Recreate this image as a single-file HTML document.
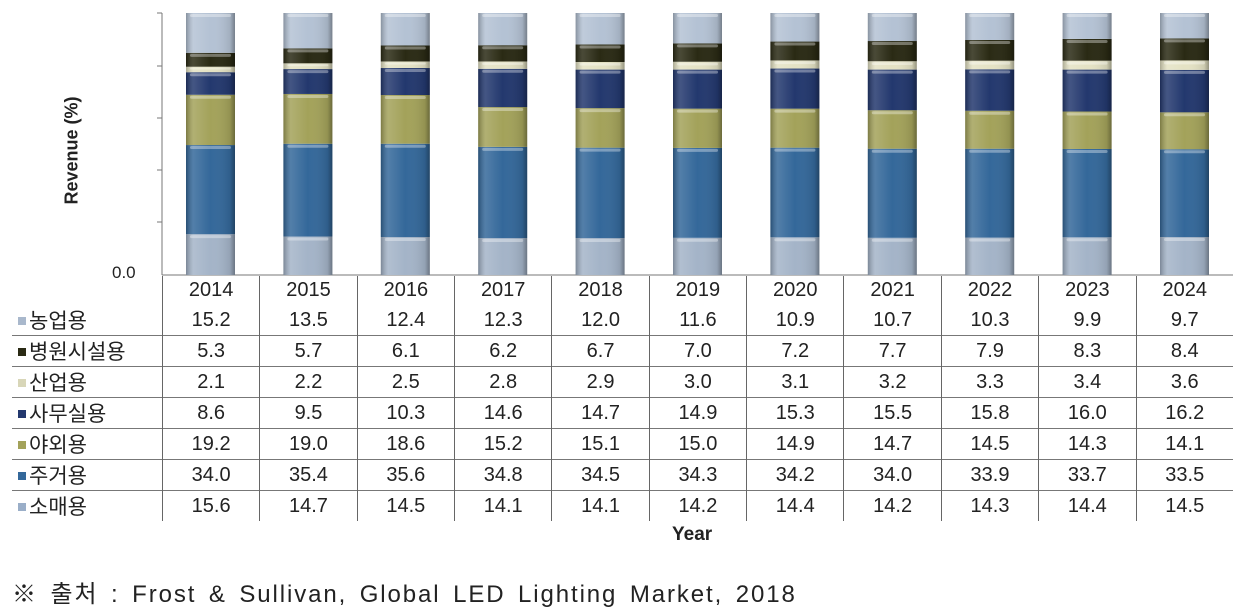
<!DOCTYPE html>
<html><head><meta charset="utf-8"><style>
body{margin:0;width:1233px;height:615px;background:#fff;position:relative;overflow:hidden;font-family:"Liberation Sans","Noto Sans CJK KR",sans-serif;color:#222}
.a{position:absolute}
table{position:absolute;left:12px;top:276px;border-collapse:collapse;font-size:20px}
td{height:30px;padding:0;text-align:center;border-left:1px solid #666}
td:first-child{width:150px;text-align:left;border-left:none;font-size:21px;font-family:"Noto Sans CJK KR",sans-serif;line-height:28px}
td.v{width:96.4px}
tr.r td{border-top:1px solid #777}
tr.h td{height:29px;font-size:20px}
.sw{display:inline-block;width:8px;height:8px;margin:0 3px 3px 6px;vertical-align:middle}
</style></head><body>
<svg class="a" style="left:0;top:0" width="1233" height="280" id="s">
<defs>
<linearGradient id="sh" x1="0" x2="1"><stop offset="0" stop-color="#000" stop-opacity=".25"/><stop offset=".15" stop-color="#fff" stop-opacity=".15"/><stop offset=".5" stop-color="#fff" stop-opacity="0"/><stop offset=".9" stop-color="#000" stop-opacity=".1"/><stop offset="1" stop-color="#000" stop-opacity=".35"/></linearGradient>
</defs>
<line x1="162" y1="13" x2="162" y2="275" stroke="#777"/>
<line x1="162" y1="275" x2="1233" y2="275" stroke="#777"/>
<g stroke="#777"><line x1="157" y1="13" x2="162" y2="13"/><line x1="157" y1="66" x2="162" y2="66"/><line x1="157" y1="118" x2="162" y2="118"/><line x1="157" y1="170" x2="162" y2="170"/><line x1="157" y1="222" x2="162" y2="222"/></g>
</svg>
<div class="a" style="left:112px;top:263px;font-size:17px">0.0</div>
<div class="a" style="left:-8px;top:140px;font-size:18px;font-weight:bold;transform:rotate(-90deg);width:160px;text-align:center">Revenue (%)</div>
<table>
<tr class="h"><td></td><td class="v">2014</td><td class="v">2015</td><td class="v">2016</td><td class="v">2017</td><td class="v">2018</td><td class="v">2019</td><td class="v">2020</td><td class="v">2021</td><td class="v">2022</td><td class="v">2023</td><td class="v">2024</td></tr>
<tr><td><span class="sw" style="background:#a9b8cc"></span>농업용</td><td>15.2</td><td>13.5</td><td>12.4</td><td>12.3</td><td>12.0</td><td>11.6</td><td>10.9</td><td>10.7</td><td>10.3</td><td>9.9</td><td>9.7</td></tr>
<tr class="r"><td><span class="sw" style="background:#2a2a14"></span>병원시설용</td><td>5.3</td><td>5.7</td><td>6.1</td><td>6.2</td><td>6.7</td><td>7.0</td><td>7.2</td><td>7.7</td><td>7.9</td><td>8.3</td><td>8.4</td></tr>
<tr class="r"><td><span class="sw" style="background:#d8d6b8"></span>산업용</td><td>2.1</td><td>2.2</td><td>2.5</td><td>2.8</td><td>2.9</td><td>3.0</td><td>3.1</td><td>3.2</td><td>3.3</td><td>3.4</td><td>3.6</td></tr>
<tr class="r"><td><span class="sw" style="background:#23386e"></span>사무실용</td><td>8.6</td><td>9.5</td><td>10.3</td><td>14.6</td><td>14.7</td><td>14.9</td><td>15.3</td><td>15.5</td><td>15.8</td><td>16.0</td><td>16.2</td></tr>
<tr class="r"><td><span class="sw" style="background:#a3a25a"></span>야외용</td><td>19.2</td><td>19.0</td><td>18.6</td><td>15.2</td><td>15.1</td><td>15.0</td><td>14.9</td><td>14.7</td><td>14.5</td><td>14.3</td><td>14.1</td></tr>
<tr class="r"><td><span class="sw" style="background:#34689a"></span>주거용</td><td>34.0</td><td>35.4</td><td>35.6</td><td>34.8</td><td>34.5</td><td>34.3</td><td>34.2</td><td>34.0</td><td>33.9</td><td>33.7</td><td>33.5</td></tr>
<tr class="r"><td><span class="sw" style="background:#9aaec8"></span>소매용</td><td>15.6</td><td>14.7</td><td>14.5</td><td>14.1</td><td>14.1</td><td>14.2</td><td>14.4</td><td>14.2</td><td>14.3</td><td>14.4</td><td>14.5</td></tr>
</table>
<div class="a" style="left:672px;top:524px;font-size:19px;font-weight:bold">Year</div>
<div class="a" style="left:12px;top:574px;font-size:24px;letter-spacing:1.9px;word-spacing:4px;font-family:'Liberation Sans','Noto Sans CJK KR',sans-serif">※ 출처 : Frost &amp; Sullivan, Global LED Lighting Market, 2018</div>
<script>
var d=[[15.6,14.7,14.5,14.1,14.1,14.2,14.4,14.2,14.3,14.4,14.5],[34.0,35.4,35.6,34.8,34.5,34.3,34.2,34.0,33.9,33.7,33.5],[19.2,19.0,18.6,15.2,15.1,15.0,14.9,14.7,14.5,14.3,14.1],[8.6,9.5,10.3,14.6,14.7,14.9,15.3,15.5,15.8,16.0,16.2],[2.1,2.2,2.5,2.8,2.9,3.0,3.1,3.2,3.3,3.4,3.6],[5.3,5.7,6.1,6.2,6.7,7.0,7.2,7.7,7.9,8.3,8.4],[15.2,13.5,12.4,12.3,12.0,11.6,10.9,10.7,10.3,9.9,9.7]];
var c=["#a4b4c8","#34689a","#a3a25a","#23386e","#e4e2c4","#2a2a14","#b4c2d4"];
var s=document.getElementById('s'),h='';
for(var i=0;i<11;i++){var tot=0;for(var k=0;k<7;k++)tot+=d[k][i];var y=275,x=186+i*97.4;
for(var k=0;k<7;k++){var hh=d[k][i]/tot*262;y-=hh;
h+='<rect x="'+x+'" y="'+y+'" width="49" height="'+hh+'" fill="'+c[k]+'"/>';
h+='<rect x="'+x+'" y="'+y+'" width="49" height="'+hh+'" fill="url(#sh)"/>';
h+='<rect x="'+(x+4)+'" y="'+(y+1)+'" width="41" height="'+Math.min(3,hh/3)+'" rx="1.5" fill="#fff" opacity=".35"/>';}}
s.insertAdjacentHTML('beforeend',h);
</script>
</body></html>
